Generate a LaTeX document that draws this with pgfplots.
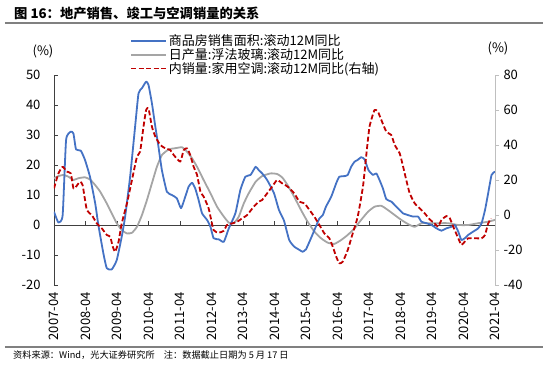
\documentclass[border=0pt]{standalone}
\usepackage{fontspec}
\setmainfont{Noto Sans CJK SC}
\usepackage{pgfplots}
\pgfplotsset{compat=1.18}
\definecolor{cblue}{HTML}{4472C4}
\definecolor{cgray}{HTML}{A5A5A5}
\definecolor{cred}{HTML}{C00000}
\definecolor{axgray}{HTML}{BFBFBF}
\begin{document}
\begin{tikzpicture}
\path[use as bounding box] (-54pt,-80pt) rectangle (496pt,285pt);
% title
\node[anchor=west, inner sep=0pt, font=\fontsize{13.3}{15}\selectfont\bfseries] at (-40pt,272pt) {图 16：地产销售、竣工与空调销量的关系};
\draw[black!50, line width=1.2pt] (-49pt,262pt) -- (489pt,262pt);
\node[inner sep=0pt, font=\fontsize{13}{15}\selectfont] at (-11pt,234pt) {(\%)};
\node[inner sep=0pt, font=\fontsize{13}{15}\selectfont] at (444pt,237pt) {(\%)};
% footer
\draw[black!50, line width=1.2pt] (-49pt,-62pt) -- (489pt,-62pt);
\node[anchor=west, inner sep=0pt, font=\fontsize{9.2}{11}\selectfont] at (-41pt,-70pt) {资料来源：Wind，光大证券研究所\quad 注：数据截止日期为 5 月 17 日};

\begin{axis}[
  scale only axis, width=441pt, height=210pt,
  xmin=0, xmax=168, ymin=-20, ymax=50,
  axis y line*=left, axis x line*=middle,
  xtick={0,12,...,168}, xticklabels={},
  ytick={-20,-10,...,50},
  tick align=inside, major tick length=4pt,
  axis line style={black!75, line width=0.8pt},
  tick style={black!75, line width=0.8pt},
  yticklabel style={font=\fontsize{13}{15}\selectfont, xshift=-10pt},
  /pgf/number format/assume math mode=true,
  hide obscured x ticks=false, hide obscured y ticks=false,
]
\addplot[cgray, line width=1.8pt, line join=round, smooth, tension=0.3] coordinates {
(0,15.6)(1.7,16.3)(3.6,16.7)(5.5,16.1)(7.4,15)(9.3,15.6)(11.8,15.9)(13.7,15.2)(15.7,13.3)(17.6,11.1)(20.1,7.2)(22,3.9)(23.9,0.6)(25.8,-1.7)(27.8,-2.8)(29.7,-2.6)(31.6,-0.6)(33.5,3.3)(35.4,8.3)(37.3,13.9)(39.2,19.4)(41.1,23.3)(43.7,25.2)(46.2,25.6)(48.8,25.9)(50.7,24.4)(52.6,22.2)(54.5,19.4)(57,15)(59.6,10.6)(62.1,6.1)(64.7,2.8)(66.6,0.8)(68.5,0.6)(70.4,2.8)(72.3,7.2)(74.2,10.6)(76.8,14.4)(79.3,16.3)(82.5,17.2)(85,17)(87,15.8)(89,13.3)(91.5,9.4)(94.1,5)(96.6,1.1)(99.2,-2.2)(101.7,-4.4)(104.3,-5.9)(106.8,-6.3)(109.4,-5)(111.9,-3.3)(114.5,-1.1)(117,1.7)(119.6,4.4)(122.1,6.1)(124.7,6.4)(127.2,5)(129.8,3.3)(132.3,1.7)(134.9,0.3)(137.4,-0.6)(140,0.6)(142.5,0.6)(146.3,0.6)(150.1,0.6)(154,0)(157.8,0)(161.6,0.6)(165.4,1.1)(168,1.7)
};
\addplot[cblue, line width=1.8pt, line join=round, smooth, tension=0.3] coordinates {
(0,4.4)(1.7,0.8)(3.3,3.3)(4.6,28.3)(6.4,31.1)(7.4,30.5)(8.4,25.2)(10.2,24.8)(11.8,21.7)(13.7,16.1)(15.7,7.2)(16.9,0)(18.8,-9.4)(20.1,-14.4)(22,-14.8)(23.9,-11.7)(25.8,-3.9)(27.1,2.8)(29,16.1)(30.9,32.8)(32.2,43.9)(33.5,45.6)(35.1,47.8)(36,46.7)(37.3,40.6)(38.6,32.8)(39.8,26.1)(41.1,18.3)(43,11.1)(44.9,10)(46.8,8.9)(48.4,5.6)(50,9.4)(51.3,12.8)(52.6,14.1)(53.8,12.2)(55.1,8.3)(56.4,3.9)(58.3,1.7)(59.6,-0.6)(60.8,-4.4)(62.8,-4.8)(64.7,-5.6)(66.6,-1.1)(69.1,3.9)(71,11.7)(72.9,16.1)(74.9,16.7)(76.8,19.4)(78,18.3)(79.3,17.2)(81.2,15)(83.8,10.6)(85.7,5)(87.6,1.5)(89.6,-5)(91.5,-7.2)(93.5,-8.3)(94.7,-8.9)(96,-8.1)(97.9,-4.4)(99.2,-1.7)(101.1,2.2)(102.4,3.3)(103.6,6.1)(105.6,9.4)(107.5,13.9)(108.7,16.1)(110.7,16.3)(111.9,16.7)(113.2,19.4)(114.5,21.1)(115.7,21.7)(117,22.6)(118.3,21.9)(119.8,18.3)(121.5,16.7)(122.8,17.2)(124,15)(125.3,12.2)(126.6,8.6)(128.5,7.8)(130.4,6.1)(131.7,5)(132.9,3.9)(134.9,3.3)(136.8,2.8)(138.7,2.8)(140,1.1)(141.9,0.6)(143.8,0)(145.7,-1.1)(147.6,-1.9)(149.5,-1.1)(151.4,-0.6)(152.7,0)(154,-2.2)(155.2,-5)(156.5,-4.4)(157.8,-3.3)(159.7,-2.2)(161.6,-1.1)(162.9,0.6)(164.2,5)(165.4,10.6)(166.7,16.7)(168,17.8)
};
\end{axis}

\begin{axis}[
  scale only axis, width=441pt, height=210pt,
  xmin=0, xmax=168, ymin=-40, ymax=80,
  axis y line*=right, axis x line*=bottom,
  x axis line style={draw=none},
  x tick style={draw=none},
  xtick={0,12,...,168},
  xticklabels={2007-04,2008-04,2009-04,2010-04,2011-04,2012-04,2013-04,2014-04,2015-04,2016-04,2017-04,2018-04,2019-04,2020-04,2021-04},
  xticklabel style={rotate=90, anchor=east, font=\fontsize{13}{15}\selectfont},
  ytick={-40,-20,...,80},
  y axis line style={axgray, line width=0.8pt},
  y tick style={axgray, line width=0.8pt},
  tick align=outside, major tick length=4pt,
  yticklabel style={font=\fontsize{13}{15}\selectfont, xshift=1pt},
  /pgf/number format/assume math mode=true,
  legend image code/.code={\draw[#1] (0pt,0pt) -- (35pt,0pt);},
  legend style={at={(0.1723,1.195)}, anchor=north west, draw=none, fill=none,
    font=\fontsize{13}{13}\selectfont, inner sep=0pt, row sep=0pt,
    nodes={inner ysep=0.6pt, inner xsep=2pt}},
  legend cell align=left,
]
\addlegendimage{cblue, line width=1.8pt}
\addlegendentry{商品房销售面积:滚动12M同比}
\addlegendimage{cgray, line width=1.8pt}
\addlegendentry{日产量:浮法玻璃:滚动12M同比}
\addplot[cred, line width=1.8pt, dash pattern=on 5pt off 2.5pt, line join=round, smooth, tension=0.3] coordinates {
(0,15.2)(1.7,23.8)(3.3,27.6)(4.8,24.8)(6.4,23.8)(7.4,15.2)(8.4,16.2)(9.9,19)(10.9,17.1)(12.5,2.9)(14.4,0)(16.3,-4.8)(18.2,-7.6)(20.1,-11.4)(21.4,-12.4)(22.4,-18.1)(23.3,-21)(24.6,-15.2)(25.8,-4.8)(27.8,6.7)(29.7,20)(31.6,33.3)(32.8,36.2)(34.1,50.5)(35.1,60)(36,61)(37.3,50.5)(38.6,44.8)(40.5,40)(42.4,38.1)(44.3,37.1)(45.6,34.3)(48.1,30.5)(49.4,37.1)(50.7,38.1)(51.9,34.3)(53.2,27.6)(54.5,22.9)(55.8,13.3)(57,10.5)(58.9,3.8)(60.8,-8.6)(62.8,-10.1)(64.7,-9)(65.9,-5.7)(67.9,-4.8)(69.8,-3.8)(71.7,-1.9)(73.6,0)(76.1,4.8)(78,7.6)(79.3,8.6)(81.2,12.4)(83.1,16.2)(85,20)(86.9,18.1)(89,16.2)(91.5,12.4)(93.5,7.6)(95.4,6.7)(97.3,2.9)(99.2,-1)(101.1,-5.7)(103,-10.5)(104.9,-13.3)(106.2,-18.1)(107.5,-23.8)(108.7,-27.6)(110,-26.7)(111.9,-20)(113.8,-10.5)(115.7,-1)(117.7,16.2)(118.9,33.3)(120.2,50.5)(122.1,60)(123.4,59)(124.7,54.3)(126.6,47.6)(128.5,45.7)(129.8,40)(131.7,35.2)(133,27.6)(134.2,20)(135.5,12.4)(137.4,6.7)(139.3,3.8)(141.2,1)(143.1,-2.5)(145,-4.8)(146.3,-6.7)(147.6,-2.9)(149.5,-0.6)(150.8,-1.9)(152.1,-6.7)(154,-13.3)(155.2,-17.1)(156.5,-15.2)(157.8,-13.3)(160.3,-13.3)(162.9,-13.3)(164.2,-11.4)(165.4,-4.8)(166.5,-2)
};
\addlegendentry{内销量:家用空调:滚动12M同比(右轴)}
\end{axis}
\end{tikzpicture}
\end{document}
